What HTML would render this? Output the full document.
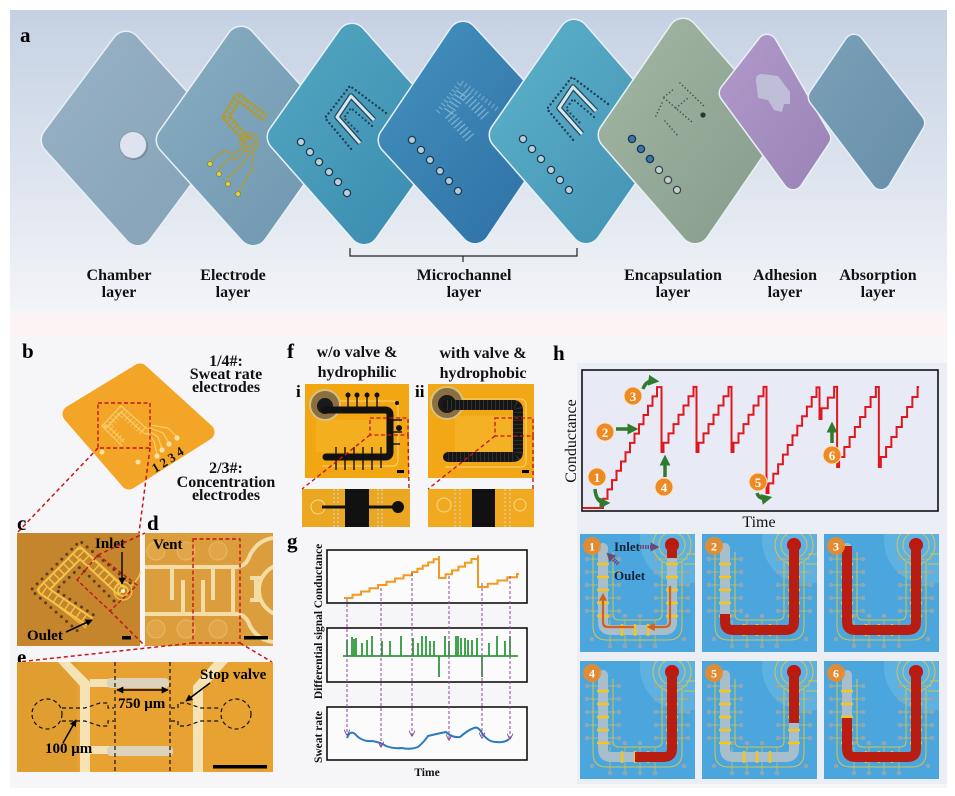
<!DOCTYPE html>
<html><head><meta charset="utf-8">
<style>
html,body{margin:0;padding:0;background:#fff;}
svg{display:block;}
text{font-family:"Liberation Serif","Times New Roman",serif;}
.b{font-weight:bold;}
</style></head><body>
<svg width="955" height="796" viewBox="0 0 955 796" xmlns="http://www.w3.org/2000/svg">
<defs>
<linearGradient id="bgA" x1="0" y1="0" x2="0" y2="1">
 <stop offset="0" stop-color="#c5d1e3"/><stop offset="0.55" stop-color="#dde4ee"/><stop offset="1" stop-color="#f3f4f8"/>
</linearGradient>
<linearGradient id="g1" x1="0" y1="0" x2="1" y2="1"><stop offset="0" stop-color="#97b1c5"/><stop offset="1" stop-color="#85a2b7"/></linearGradient>
<linearGradient id="g2" x1="0" y1="0" x2="1" y2="1"><stop offset="0" stop-color="#86acc1"/><stop offset="1" stop-color="#7197b1"/></linearGradient>
<linearGradient id="g3" x1="0" y1="0" x2="1" y2="1"><stop offset="0" stop-color="#52a6c0"/><stop offset="1" stop-color="#3a8bb0"/></linearGradient>
<linearGradient id="g4" x1="0" y1="0" x2="1" y2="1"><stop offset="0" stop-color="#4290bc"/><stop offset="1" stop-color="#2e70a5"/></linearGradient>
<linearGradient id="g5" x1="0" y1="0" x2="1" y2="1"><stop offset="0" stop-color="#5cb0c8"/><stop offset="1" stop-color="#4292b4"/></linearGradient>
<linearGradient id="g6" x1="0" y1="0" x2="1" y2="1"><stop offset="0" stop-color="#a0b6a2"/><stop offset="1" stop-color="#889c8c"/></linearGradient>
<linearGradient id="g7" x1="0" y1="0" x2="1" y2="1"><stop offset="0" stop-color="#b098c9"/><stop offset="1" stop-color="#9b84b7"/></linearGradient>
<linearGradient id="g8" x1="0" y1="0" x2="1" y2="1"><stop offset="0" stop-color="#7a9fb7"/><stop offset="1" stop-color="#6890aa"/></linearGradient>
<marker id="mk" viewBox="0 0 10 10" refX="9" refY="5" markerWidth="7" markerHeight="7" markerUnits="userSpaceOnUse" orient="auto"><path d="M0,0 L10,5 L0,10 z" fill="#000"/></marker>
<marker id="mk2" viewBox="0 0 10 10" refX="9" refY="5" markerWidth="7" markerHeight="7" markerUnits="userSpaceOnUse" orient="auto-start-reverse"><path d="M0,0 L10,5 L0,10 z" fill="#000"/></marker>
<marker id="gm" viewBox="0 0 10 10" refX="6" refY="5" markerWidth="11" markerHeight="11" markerUnits="userSpaceOnUse" orient="auto"><path d="M0,0 L10,5 L0,10 z" fill="#2f7a2c"/></marker>
<marker id="om" viewBox="0 0 10 10" refX="6" refY="5" markerWidth="8" markerHeight="8" markerUnits="userSpaceOnUse" orient="auto"><path d="M0,0 L10,5 L0,10 z" fill="#d4601a"/></marker>
<marker id="pm" viewBox="0 0 10 10" refX="6" refY="5" markerWidth="9" markerHeight="9" markerUnits="userSpaceOnUse" orient="auto"><path d="M0,0 L10,5 L0,10 z" fill="#6a4a7a"/></marker>
<marker id="vm" viewBox="0 0 10 10" refX="9" refY="5" markerWidth="6" markerHeight="6" markerUnits="userSpaceOnUse" orient="auto"><path d="M0,0 L10,5 L0,10" fill="none" stroke="#8a4a9a" stroke-width="1.6"/></marker>
<clipPath id="tc"><rect x="0" y="0" width="115" height="118"/></clipPath>
<clipPath id="dc"><rect x="145" y="533" width="128" height="113"/></clipPath>
<g id="tb">
 <g clip-path="url(#tc)">
 <rect width="115" height="118" fill="#4aa6dc"/>
 <circle cx="104" cy="6" r="44" fill="#6dbbe8" opacity="0.55"/>
 <circle cx="92" cy="11" r="13" fill="none" stroke="#d4c453" stroke-width="1"/>
 <circle cx="92" cy="11" r="19" fill="none" stroke="#d4c453" stroke-width="1"/>
 <path d="M106,20 H118 M104,30 H118" stroke="#d4c453" stroke-width="1"/>
 <g stroke="#c9bf5a" stroke-width="0.8">
  <path d="M7,25H39M7,38H39M7,51H39M7,64H39M7,77H39M76,25H108M76,38H108M76,51H108M76,64H108M76,77H108M30,86V112M45,86V112M60,86V112M75,86V112"/>
 </g>
 <g fill="#8ea6b6">
  <circle cx="7" cy="25" r="2.3"/><circle cx="7" cy="38" r="2.3"/><circle cx="7" cy="51" r="2.3"/><circle cx="7" cy="64" r="2.3"/><circle cx="7" cy="77" r="2.3"/>
  <circle cx="39" cy="25" r="2.3"/><circle cx="39" cy="38" r="2.3"/><circle cx="39" cy="51" r="2.3"/><circle cx="39" cy="64" r="2.3"/><circle cx="39" cy="77" r="2.3"/>
  <circle cx="76" cy="25" r="2.3"/><circle cx="76" cy="38" r="2.3"/><circle cx="76" cy="51" r="2.3"/><circle cx="76" cy="64" r="2.3"/><circle cx="76" cy="77" r="2.3"/>
  <circle cx="108" cy="38" r="2.3"/><circle cx="108" cy="51" r="2.3"/><circle cx="108" cy="64" r="2.3"/><circle cx="108" cy="77" r="2.3"/>
  <circle cx="30" cy="112" r="2.3"/><circle cx="45" cy="112" r="2.3"/><circle cx="60" cy="112" r="2.3"/><circle cx="75" cy="112" r="2.3"/><circle cx="12" cy="105" r="2.3"/><circle cx="104" cy="105" r="2.3"/>
  <circle cx="30" cy="82" r="2.3"/><circle cx="45" cy="82" r="2.3"/><circle cx="60" cy="82" r="2.3"/>
 </g>
 <path d="M13,14 V92 Q13,106 27,106 H88 Q102,106 102,92 V28" fill="none" stroke="#d4c453" stroke-width="1"/>
 <path d="M33,18 V80 Q33,86 39,86 H76 Q82,86 82,80 V28" fill="none" stroke="#d4c453" stroke-width="1"/>
 <path d="M23,14 V88 Q23,96 31,96 H84 Q92,96 92,88 V11" fill="none" stroke="#a8bfcb" stroke-width="10" stroke-linecap="round"/>
 <g stroke="#f5c518" stroke-width="2.5">
  <path d="M17,30H29M17,43H29M17,56H29M17,69H29M17,82H29M86,30H98M86,43H98M86,56H98M86,69H98M86,82H98M42,90V102M55,90V102M68,90V102"/>
 </g>
 <circle cx="92" cy="11" r="7" fill="#c0160c"/>
 </g>
</g>
</defs>

<rect width="955" height="796" fill="#fff"/>
<rect x="10" y="10" width="937" height="300" fill="url(#bgA)"/>
<rect x="10" y="310" width="937" height="478" fill="#f6f6f8"/>
<rect x="10" y="315" width="937" height="22" fill="#fcf4f4"/>

<text x="20" y="42" font-size="21" class="b">a</text>

<g stroke-linejoin="round">
 <polygon points="56,140 126,46 208,137 138,231" fill="none" stroke="#e9f0f5" stroke-width="31"/>
 <polygon points="56,140 126,46 208,137 138,231" fill="url(#g1)" stroke="url(#g1)" stroke-width="28"/>
 <circle cx="134" cy="146" r="14" fill="#5f7385" opacity="0.6"/>
 <circle cx="133" cy="145" r="13.5" fill="#dfe3ef" stroke="#8a9cab" stroke-width="1"/>

 <polygon points="171,140 241,41 323,132 253,231" fill="none" stroke="#e9f0f5" stroke-width="31"/>
 <polygon points="171,140 241,41 323,132 253,231" fill="url(#g2)" stroke="url(#g2)" stroke-width="28"/>
 <g fill="none">
  <path d="M265,118 L238,97 L226,117 L248,141" stroke="#b89a20" stroke-width="8"/>
  <path d="M265,118 L238,97 L226,117 L248,141" stroke="#7ea4bb" stroke-width="5"/>
  <path d="M265,118 L238,97 L226,117 L248,141" stroke="#b89a20" stroke-width="8" stroke-dasharray="1.2 3.5"/>
  <circle cx="249" cy="142" r="5" stroke="#b89a20" stroke-width="1.5"/>
  <circle cx="249" cy="142" r="9" stroke="#b89a20" stroke-width="1.2"/>
  <path d="M244,146 L232,155 L225,150 L214,158 L210,163 M246,150 L236,160 L230,158 L220,168 L219,174 M250,152 L242,165 L236,170 L228,178 L228,183 M253,150 L252,170 L246,178 L242,186 L238,193" stroke="#b89a20" stroke-width="1.2"/>
 </g>
 <g fill="#e0cc50" stroke="#8a7a10" stroke-width="0.6"><circle cx="210" cy="164" r="2.5"/><circle cx="219" cy="174" r="2.5"/><circle cx="228" cy="184" r="2.5"/><circle cx="238" cy="194" r="2.5"/></g>

 <polygon points="282,137 352,38 434,131 364,230" fill="none" stroke="#e9f0f5" stroke-width="31"/>
 <polygon points="282,137 352,38 434,131 364,230" fill="url(#g3)" stroke="url(#g3)" stroke-width="28"/>
 <g id="mcd">
  <path d="M374,120 L351,96 L337,117 L360,143" fill="none" stroke="#23455a" stroke-width="5.5" stroke-linejoin="round"/>
  <path d="M374,120 L351,96 L337,117 L360,143" fill="none" stroke="#d8e6ee" stroke-width="3" stroke-linejoin="round"/>
  <path d="M386,113 L350,86 L325,118 L352,150" fill="none" stroke="#1d3f55" stroke-width="2.4" stroke-dasharray="0 4.2" stroke-linecap="round"/>
  <path d="M372,126 L351,108 L344,118 L360,134" fill="none" stroke="#1d3f55" stroke-width="2.2" stroke-dasharray="0 4.2" stroke-linecap="round"/>
 </g>
 <g fill="#bdd0dc" stroke="#1c3e54" stroke-width="1.3">
  <circle cx="301" cy="142" r="3.6"/><circle cx="310" cy="152" r="3.6"/><circle cx="319" cy="162" r="3.6"/><circle cx="329" cy="172" r="3.6"/><circle cx="338" cy="182" r="3.6"/><circle cx="347" cy="193" r="3.6"/>
 </g>

 <polygon points="393,140 463,36 545,125 475,229" fill="none" stroke="#e9f0f5" stroke-width="31"/>
 <polygon points="393,140 463,36 545,125 475,229" fill="url(#g4)" stroke="url(#g4)" stroke-width="28"/>
 <g transform="translate(111,-4)" fill="none">
  <path d="M374,120 L351,96 L337,117 L360,143" stroke="#8fbcd8" stroke-width="11" stroke-dasharray="1.3 3" opacity="0.8"/>
  <path d="M386,113 L350,86 L325,118" stroke="#8fbcd8" stroke-width="5" stroke-dasharray="1.3 3" opacity="0.6"/>
 </g>
 <g fill="#b5cadb" stroke="#1c3e54" stroke-width="1.3">
  <circle cx="412" cy="140" r="3.6"/><circle cx="421" cy="150" r="3.6"/><circle cx="430" cy="160" r="3.6"/><circle cx="440" cy="171" r="3.6"/><circle cx="449" cy="181" r="3.6"/><circle cx="458" cy="191" r="3.6"/>
 </g>

 <polygon points="504,135 574,34 656,128 586,229" fill="none" stroke="#e9f0f5" stroke-width="31"/>
 <polygon points="504,135 574,34 656,128 586,229" fill="url(#g5)" stroke="url(#g5)" stroke-width="28"/>
 <use href="#mcd" transform="translate(222,-9)"/>
 <g fill="#bdd0dc" stroke="#1c3e54" stroke-width="1.3">
  <circle cx="523" cy="139" r="3.6"/><circle cx="532" cy="149" r="3.6"/><circle cx="541" cy="159" r="3.6"/><circle cx="551" cy="170" r="3.6"/><circle cx="560" cy="180" r="3.6"/><circle cx="569" cy="190" r="3.6"/>
 </g>

 <polygon points="613,135 683,33 765,127 695,229" fill="none" stroke="#e9f0f5" stroke-width="31"/>
 <polygon points="613,135 683,33 765,127 695,229" fill="url(#g6)" stroke="url(#g6)" stroke-width="28"/>
 <g fill="none" stroke="#3f4a48" stroke-width="1.6" stroke-dasharray="0 3.6" stroke-linecap="round">
  <path d="M680,83 L705,107"/><path d="M664,97 L675,88"/><path d="M664,98 L692,122"/><path d="M676,108 L688,98"/><path d="M665,121 L678,136"/><path d="M662,103 L655,118"/>
 </g>
 <circle cx="703" cy="115" r="2.6" fill="#2c3434"/>
 <g stroke-width="1.3">
  <circle cx="632" cy="139" r="3.6" fill="#3a78a8" stroke="#1c3050"/><circle cx="641" cy="149" r="3.6" fill="#3a78a8" stroke="#1c3050"/><circle cx="650" cy="159" r="3.6" fill="#3a78a8" stroke="#1c3050"/>
  <circle cx="659" cy="170" r="3.6" fill="#c7cfcf" stroke="#3a4a4a"/><circle cx="668" cy="180" r="3.6" fill="#c7cfcf" stroke="#3a4a4a"/><circle cx="677" cy="190" r="3.6" fill="#c7cfcf" stroke="#3a4a4a"/>
 </g>

 <polygon points="729,93 767,44 821,138 793,180" fill="none" stroke="#e9f0f5" stroke-width="21"/>
 <polygon points="729,93 767,44 821,138 793,180" fill="url(#g7)" stroke="url(#g7)" stroke-width="18"/>
 <path d="M756,80 Q756,74 762,74 L778,76 L790,92 L790,104 L784,104 L782,112 L774,110 L768,100 L758,98 Z" fill="#c3c6da" opacity="0.85"/>

 <polygon points="818,97 854,44 915,123 881,180" fill="none" stroke="#e9f0f5" stroke-width="21"/>
 <polygon points="818,97 854,44 915,123 881,180" fill="url(#g8)" stroke="url(#g8)" stroke-width="18"/>
</g>

<path d="M350,248 V256 H577 V248 M463,256 V262" fill="none" stroke="#222" stroke-width="1.2"/>

<g class="b" font-size="16" text-anchor="middle" fill="#111">
 <text x="119" y="280">Chamber</text><text x="119" y="297">layer</text>
 <text x="233" y="280">Electrode</text><text x="233" y="297">layer</text>
 <text x="464" y="280">Microchannel</text><text x="464" y="297">layer</text>
 <text x="673" y="280">Encapsulation</text><text x="673" y="297">layer</text>
 <text x="785" y="280">Adhesion</text><text x="785" y="297">layer</text>
 <text x="878" y="280">Absorption</text><text x="878" y="297">layer</text>
</g>

<!-- panel b -->
<text x="22" y="358" font-size="21" class="b">b</text>
<polygon points="71,414 140,372 206,432 129,481" fill="#f2a526" stroke="#f2a526" stroke-width="17" stroke-linejoin="round"/>
<g fill="none" stroke="#f8d070" stroke-width="1.2">
 <path d="M142,432 L121,412 L108,426 L124,442"/>
 <path d="M146,428 L121,406 L102,426 L122,446"/>
 <path d="M142,432 L121,412 L108,426 L124,442" stroke-width="7" stroke-dasharray="1 3" opacity="0.8"/>
 <path d="M147,433 L154,441 L157,455 M149,431 L158,437 L162,449 M150,428 L163,433 L169,443 M150,425 L168,428 L177,437"/>
</g>
<circle cx="146" cy="431" r="3" fill="none" stroke="#f8d070" stroke-width="1"/>
<g fill="#fae2a4"><circle cx="157" cy="456" r="2.6"/><circle cx="162" cy="450" r="2.6"/><circle cx="169" cy="444" r="2.6"/><circle cx="177" cy="438" r="2.6"/><circle cx="102" cy="452" r="2.5"/><circle cx="138" cy="462" r="2.5"/></g>
<rect x="98" y="403" width="52" height="45" fill="none" stroke="#c8141a" stroke-width="1.4" stroke-dasharray="4 2.5"/>
<g class="b" font-size="13" fill="#111">
 <text x="155" y="473" transform="rotate(-30 155 473)">1</text>
 <text x="163" y="468" transform="rotate(-30 163 468)">2</text>
 <text x="171" y="463" transform="rotate(-30 171 463)">3</text>
 <text x="179" y="457" transform="rotate(-30 179 457)">4</text>
</g>
<g class="b" font-size="16" text-anchor="middle" fill="#111">
 <text x="226" y="366">1/4#:</text><text x="226" y="379">Sweat rate</text><text x="226" y="392">electrodes</text>
 <text x="226" y="473">2/3#:</text><text x="226" y="487">Concentration</text><text x="226" y="500">electrodes</text>
</g>
<g stroke="#c8141a" stroke-width="1.5" stroke-dasharray="4 3" fill="none">
 <path d="M98,448 L17,533"/><path d="M150,448 L139,533"/>
</g>

<!-- panel c -->
<text x="17" y="530" font-size="21" class="b">c</text>
<rect x="17" y="533" width="123" height="113" fill="#c4852c"/>
<g fill="none" stroke-linejoin="round">
 <path d="M130,583 L80,541 L31,590 L81,634" stroke="#4a2a10" stroke-width="3" stroke-dasharray="0 7" stroke-linecap="round" opacity="0.8"/>
 <path d="M114,601 L80,567 L56,590 L95,616" stroke="#4a2a10" stroke-width="3" stroke-dasharray="0 7" stroke-linecap="round" opacity="0.8"/>
 <path d="M125,587 L80,546 L37,590 L86,628" stroke="#f0c040" stroke-width="1.2"/>
 <path d="M122,592 L80,553 L43,590 L90,622" stroke="#f3c44a" stroke-width="11"/>
 <path d="M122,592 L80,553 L43,590 L90,622" stroke="#c4852c" stroke-width="7"/>
 <path d="M122,592 L80,553 L43,590 L90,622" stroke="#f3c44a" stroke-width="11" stroke-dasharray="1.4 5.5"/>
 <circle cx="123" cy="591" r="5" stroke="#f3c44a" stroke-width="1.5"/>
 <circle cx="123" cy="591" r="9" stroke="#f3c44a" stroke-width="1.2"/>
 <path d="M131,586 Q140,578 140,572" stroke="#f3c44a" stroke-width="1.5"/>
</g>
<circle cx="123" cy="591" r="2" fill="#fff6d0"/>
<polygon points="77,580 98,555 137,585 110,611" fill="none" stroke="#c8141a" stroke-width="1.4" stroke-dasharray="4 2.5"/>
<text x="95" y="548" font-size="15" class="b">Inlet</text>
<path d="M122,552 V584" stroke="#000" stroke-width="1.4" marker-end="url(#mk)"/>
<text x="27" y="640" font-size="15" class="b">Oulet</text>
<path d="M66,632 L92,620" stroke="#000" stroke-width="1.6" marker-end="url(#mk)"/>
<rect x="122" y="636" width="9" height="3.5" fill="#000"/>

<!-- panel d -->
<text x="147" y="530" font-size="21" class="b">d</text>
<g clip-path="url(#dc)">
<rect x="145" y="533" width="128" height="113" fill="#dc9e3c"/>
<g fill="#e1a648" stroke="#eab868" stroke-width="1">
 <circle cx="156" cy="551" r="9"/><circle cx="186" cy="551" r="9"/><circle cx="218" cy="551" r="9"/>
 <circle cx="156" cy="629" r="9"/><circle cx="186" cy="629" r="9"/><circle cx="218" cy="629" r="9"/>
</g>
<g fill="none" stroke="#f4dca6" stroke-width="4">
 <path d="M145,567 H236 Q246,567 250,555 Q258,540 273,538"/>
 <path d="M145,614 H236 Q246,614 250,626 Q258,640 273,642"/>
 <path d="M172,567 V600 M183,580 V614 M203,580 V614 M213,567 V600 M233,567 V614"/>
 <circle cx="285" cy="590" r="26"/>
 <path d="M250,578 H262 M250,600 H262 M256,578 V600"/>
</g>
</g>
<text x="153" y="549" font-size="15" class="b">Vent</text>
<rect x="193" y="539" width="47" height="104" fill="none" stroke="#c8141a" stroke-width="1.4" stroke-dasharray="4 2.5"/>
<rect x="244" y="636" width="24" height="3.5" fill="#000"/>
<g stroke="#c8141a" stroke-width="1.5" stroke-dasharray="4 3" fill="none">
 <path d="M98,555 L145,533"/><path d="M110,611 L145,646"/>
 <path d="M193,643 L18,662"/><path d="M240,643 L272,662"/>
</g>

<!-- panel e -->
<text x="17" y="664" font-size="21" class="b">e</text>
<rect x="17" y="662" width="256" height="110" fill="#e7a232"/>
<rect x="17" y="662" width="60" height="110" fill="#dc9a2e" opacity="0.6"/>
<g fill="#f5e2b5">
 <polygon points="58,662 70,662 90,682 90,772 80,772 80,686"/>
 <polygon points="214,662 228,662 203,690 203,772 193,772 193,686"/>
 <rect x="90" y="679" width="20" height="8"/>
 <rect x="90" y="746" width="20" height="8"/>
</g>
<g fill="#ddd2bc">
 <rect x="107" y="678" width="62" height="10" rx="4"/>
 <rect x="107" y="746" width="66" height="10" rx="4"/>
</g>
<g fill="none" stroke="#111" stroke-width="1.2" stroke-dasharray="4 3">
 <path d="M115,662 V772"/><path d="M170,662 V772"/>
 <circle cx="47" cy="714" r="15"/><circle cx="236" cy="714" r="15"/>
 <path d="M62,708 H85 L100,703 H108 V708 H114"/>
 <path d="M62,721 H85 L100,726 H108 V721 H114"/>
 <path d="M171,708 H178 V703 H186 L201,708 H221"/>
 <path d="M171,721 H178 V726 H186 L201,721 H221"/>
</g>
<path d="M117,690 H168" stroke="#000" stroke-width="1.5" marker-end="url(#mk2)" marker-start="url(#mk2)"/>
<text x="118" y="708" font-size="15" class="b">750 μm</text>
<text x="200" y="679" font-size="15" class="b">Stop valve</text>
<path d="M210,683 L186,701" stroke="#000" stroke-width="1.5" marker-end="url(#mk)"/>
<text x="45" y="753" font-size="15" class="b">100 μm</text>
<path d="M63,743 L76,720" stroke="#000" stroke-width="1.5" marker-end="url(#mk)"/>
<rect x="213" y="765" width="54" height="3.5" fill="#000"/>

<!-- panel f -->
<text x="287" y="358" font-size="21" class="b">f</text>
<g class="b" font-size="16" text-anchor="middle" fill="#111">
 <text x="357" y="357">w/o valve &amp;</text><text x="357" y="377">hydrophilic</text>
 <text x="483" y="358">with valve &amp;</text><text x="483" y="378">hydrophobic</text>
</g>
<text x="296" y="397" font-size="17" class="b">i</text>
<text x="415" y="397" font-size="17" class="b">ii</text>
<rect x="305" y="384" width="104" height="94" fill="#f1a612"/>
<rect x="316" y="420" width="70" height="32" fill="#f5b52a" opacity="0.6"/>
<path d="M318,401 H392 Q398,401 398,407 V460 Q398,466 392,466 H322" fill="none" stroke="#f8d67a" stroke-width="1"/>
<circle cx="325" cy="405" r="15" fill="#8a7040" stroke="#d8c080" stroke-width="2"/>
<circle cx="325" cy="406" r="8" fill="#1a1a1a"/>
<path d="M325,410 H385 Q390,410 390,415 V452 Q390,457 385,457 H326" fill="none" stroke="#111" stroke-width="7" stroke-linecap="round"/>
<g stroke="#111" stroke-width="1.4">
 <path d="M348,410V395M357,410V395M367,410V395M377,410V395M390,420H402M390,432H402M390,444H400"/>
 <path d="M336,447V470M345,447V470M354,447V470M363,447V470M372,447V470M381,447V468"/>
</g>
<g fill="#111"><circle cx="348" cy="395" r="2.5"/><circle cx="357" cy="395" r="2.5"/><circle cx="367" cy="395" r="2.5"/><circle cx="377" cy="395" r="2.5"/><circle cx="399" cy="428" r="3"/><circle cx="397" cy="403" r="2"/></g>
<rect x="370" y="418" width="38" height="17" fill="none" stroke="#c8141a" stroke-width="1.3" stroke-dasharray="4 2.5"/>
<rect x="397" y="470" width="7" height="3" fill="#000"/>
<rect x="302" y="489" width="108" height="38" fill="#eba622"/>
<path d="M334,489V527M338,489V527M378,489V527M382,489V527" stroke="#d8cfb8" stroke-width="1.2" stroke-dasharray="2 2"/>
<circle cx="318" cy="507" r="7" fill="none" stroke="#f6d98c" stroke-width="1"/>
<rect x="345" y="489" width="24" height="38" fill="#111"/>
<path d="M322,507 H395" stroke="#111" stroke-width="3"/>
<circle cx="398" cy="507" r="6" fill="#111"/>
<rect x="428" y="384" width="106" height="94" fill="#f2a816"/>
<rect x="455" y="416" width="56" height="36" fill="#f6b832" opacity="0.6"/>
<path d="M440,399 H520 Q526,399 526,405 V462 Q526,467 520,467 H445" fill="none" stroke="#f8d67a" stroke-width="1"/>
<circle cx="447" cy="403" r="16" fill="#8a7040" stroke="#d8c080" stroke-width="2"/>
<circle cx="447" cy="404" r="9" fill="#1a1a1a"/>
<path d="M447,405 H513 Q518,405 518,410 V452 Q518,457 513,457 H448" fill="none" stroke="#151515" stroke-width="10" stroke-linecap="round"/>
<path d="M447,405 H513 Q518,405 518,410 V452 Q518,457 513,457 H448" fill="none" stroke="#444" stroke-width="10" stroke-dasharray="1 3" opacity="0.6"/>
<rect x="495" y="418" width="38" height="18" fill="none" stroke="#c8141a" stroke-width="1.3" stroke-dasharray="4 2.5"/>
<rect x="522" y="470" width="7" height="3" fill="#000"/>
<rect x="428" y="489" width="106" height="38" fill="#f1a920"/>
<path d="M455,489V527M460,489V527M505,489V527M510,489V527" stroke="#d8cfb8" stroke-width="1.2" stroke-dasharray="2 2"/>
<circle cx="444" cy="505" r="7" fill="none" stroke="#f6d98c" stroke-width="1"/>
<circle cx="520" cy="505" r="6" fill="none" stroke="#f6d98c" stroke-width="1"/>
<rect x="472" y="489" width="23" height="38" fill="#111"/>
<g stroke="#c8141a" stroke-width="1.4" stroke-dasharray="4 3" fill="none">
 <path d="M370,435 L302,489"/><path d="M408,435 L409,489"/>
 <path d="M495,436 L428,489"/><path d="M533,436 L533,489"/>
</g>

<!-- panel g -->
<text x="287" y="548" font-size="21" class="b">g</text>
<g fill="#fbfbfc" stroke="#111" stroke-width="1.6">
 <rect x="327" y="550" width="200" height="53"/>
 <rect x="327" y="628" width="200" height="54"/>
 <rect x="327" y="707" width="200" height="53"/>
</g>
<path d="M344,598 h8.5v-3.25h8.5v-3.25h8.5v-3.25h8.5v-3.25h8.5v-3.25h8.5v-3.25h8.5v-3.25h8.5v-3.25 h5.4v-3.2h5.4v-3.2h5.4v-3.2h5.4v-3.2h5.4v-3.2 V578 h6.5v-3.8h6.5v-3.8h6.5v-3.8h6.5v-3.8h6.5v-3.8h6.5v-3.8 V587 h9.75v-3.25h9.75v-3.25h9.75v-3.25h9.75v-3.25 h2" fill="none" stroke="#f39a1e" stroke-width="2"/>
<g stroke="#2f9a3c" stroke-width="1.8" fill="none">
 <path d="M343,656 H518"/>
 <path d="M347,656V640M352,656V637M354,656V639M356,656V638M362,656V643M367,656V640M372,656V636M382,656V641M390,656V641M401,656V636M413,656V638M418,656V643M422,656V636M426,656V636M430,656V641M434,656V641M445,656V636M449,656V641M456,656V636M458,656V636M461,656V638M465,656V638M468,656V640M472,656V640M477,656V638M489,656V643M497,656V636M505,656V641M510,656V636"/>
 <path d="M439,656V677M482,656V677"/>
</g>
<path d="M347,738 Q350,730 355,734 Q362,742 372,741 Q380,742 386,746 Q394,749 402,748 Q410,750 418,747 Q424,742 428,736 Q436,734 446,732 Q452,738 460,737 Q468,730 474,728 Q478,726 482,733 Q488,742 496,742 Q505,743 509,739" fill="none" stroke="#2a7ac0" stroke-width="2"/>
<g stroke="#8a4a9a" stroke-width="1" stroke-dasharray="3 2" fill="none">
 <path d="M347,599 V735" marker-end="url(#vm)"/>
 <path d="M381,588 V747" marker-end="url(#vm)"/>
 <path d="M412,573 V736" marker-end="url(#vm)"/>
 <path d="M449,576 V740" marker-end="url(#vm)"/>
 <path d="M482,583 V738" marker-end="url(#vm)"/>
 <path d="M510,576 V739" marker-end="url(#vm)"/>
</g>
<g class="b" font-size="11.5" text-anchor="middle" fill="#111">
 <text x="427" y="776">Time</text>
 <text transform="translate(322,576) rotate(-90)">Conductance</text>
 <text transform="translate(322,655) rotate(-90)">Differential signal</text>
 <text transform="translate(322,737) rotate(-90)">Sweat rate</text>
</g>

<!-- panel h -->
<rect x="577" y="363" width="370" height="421" fill="#eceef6"/>
<text x="553" y="360" font-size="21" class="b">h</text>
<rect x="582" y="370" width="356" height="141" fill="#e8eaf6" stroke="#111" stroke-width="1.6"/>
<path d="M583,508 H603 v-9.3h4.5v-9.3h4.5v-9.3h4.5v-9.3h4.5v-9.3h4.5v-9.3h4.5v-9.3h4.5v-9.3h4.5v-9.3h4.5v-9.3h4.5v-9.3h4.5v-9.3h4.5v-9.3h4.5 V452 h2 v-9.3h5v-9.3h5v-9.3h5v-9.3h5v-9.3h5v-9.3h5v-9.3h3 V452 h2 v-9.3h5v-9.3h5v-9.3h5v-9.3h5v-9.3h5v-9.3h5v-9.3h3 V452 h2 v-9.3h5v-9.3h5v-9.3h5v-9.3h5v-9.3h5v-9.3h5v-9.3h3 V493 h2 v-9.6h4.8v-9.6h4.8v-9.6h4.8v-9.6h4.8v-9.6h4.8v-9.6h4.8v-9.6h4.8v-9.6h4.8v-9.6h4.8v-9.6h4.8v-9.6h3 V419 h2 v-10.7h6.3v-10.7h6.3v-10.7h3 V467 h2 v-10h5.25v-10h5.25v-10h5.25v-10h5.25v-10h5.25v-10h5.25v-10h5.25v-10h3 V467 h2 v-10h5.25v-10h5.25v-10h5.25v-10h5.25v-10h5.25v-10h5.25v-10h5.25v-10h1.5" fill="none" stroke="#e0181e" stroke-width="2"/>
<g fill="none" stroke="#2f7a2c" stroke-width="3.5">
 <path d="M595,489 Q596,503 606,503" marker-end="url(#gm)"/>
 <path d="M616,429 H634" marker-end="url(#gm)"/>
 <path d="M643,389 Q646,380 655,381" marker-end="url(#gm)"/>
 <path d="M665,477 V459" marker-end="url(#gm)"/>
 <path d="M757,493 Q759,500 768,498" marker-end="url(#gm)"/>
 <path d="M832,443 V426" marker-end="url(#gm)"/>
</g>
<g fill="#ee8a22" stroke="#fbe3c8" stroke-width="1">
 <circle cx="597" cy="477" r="9"/><circle cx="605" cy="432" r="9"/><circle cx="633" cy="396" r="9"/>
 <circle cx="664" cy="487" r="9"/><circle cx="758" cy="482" r="9"/><circle cx="832" cy="455" r="9"/>
</g>
<g class="b" font-size="13" fill="#fff" text-anchor="middle">
 <text x="597" y="482">1</text><text x="605" y="437">2</text><text x="633" y="401">3</text>
 <text x="664" y="492">4</text><text x="758" y="487">5</text><text x="832" y="460">6</text>
</g>
<text x="759" y="527" font-size="16" text-anchor="middle" fill="#111">Time</text>
<text transform="translate(576,441) rotate(-90)" font-size="16" text-anchor="middle" fill="#111">Conductance</text>

<g transform="translate(580,534)">
 <use href="#tb"/>
 <path d="M92,11 V24" stroke="#b91d12" stroke-width="10"/>
 <path d="M90,52 V88 Q90,93 84,93 H70" fill="none" stroke="#d4601a" stroke-width="2.2" marker-end="url(#om)"/>
 <path d="M54,93 H28 Q23,93 23,88 V62" fill="none" stroke="#d4601a" stroke-width="2.2" marker-end="url(#om)"/>
 <path d="M60,13 H76" stroke="#6a4a7a" stroke-width="4" stroke-dasharray="1.5 1" marker-end="url(#pm)"/>
 <path d="M38,30 L29,21" stroke="#6a4a7a" stroke-width="4" stroke-dasharray="1.5 1" marker-end="url(#pm)"/>
 <text x="34" y="17" font-size="13" class="b" fill="#14243e">Inlet</text>
 <text x="34" y="46" font-size="13" class="b" fill="#14243e">Oulet</text>
 <circle cx="12" cy="12" r="9" fill="#f08a24" opacity="0.9"/><text x="12" y="16.5" font-size="12" class="b" fill="#fff" text-anchor="middle">1</text>
</g>
<g transform="translate(702,534)">
 <use href="#tb"/>
 <path d="M92,11 V88 Q92,96 84,96 H31 Q23,96 23,88 V80" fill="none" stroke="#b91d12" stroke-width="10"/>
 <circle cx="12" cy="12" r="9" fill="#f08a24" opacity="0.9"/><text x="12" y="16.5" font-size="12" class="b" fill="#fff" text-anchor="middle">2</text>
</g>
<g transform="translate(824,534)">
 <use href="#tb"/>
 <path d="M92,11 V88 Q92,96 84,96 H31 Q23,96 23,88 V12" fill="none" stroke="#b91d12" stroke-width="10"/>
 <circle cx="12" cy="12" r="9" fill="#f08a24" opacity="0.9"/><text x="12" y="16.5" font-size="12" class="b" fill="#fff" text-anchor="middle">3</text>
</g>
<g transform="translate(580,661)">
 <use href="#tb"/>
 <path d="M92,11 V88 Q92,96 84,96 H55" fill="none" stroke="#b91d12" stroke-width="10"/>
 <circle cx="12" cy="12" r="9" fill="#f08a24" opacity="0.9"/><text x="12" y="16.5" font-size="12" class="b" fill="#fff" text-anchor="middle">4</text>
</g>
<g transform="translate(702,661)">
 <use href="#tb"/>
 <path d="M92,11 V62" fill="none" stroke="#b91d12" stroke-width="10"/>
 <circle cx="12" cy="12" r="9" fill="#f08a24" opacity="0.9"/><text x="12" y="16.5" font-size="12" class="b" fill="#fff" text-anchor="middle">5</text>
</g>
<g transform="translate(824,661)">
 <use href="#tb"/>
 <path d="M92,11 V88 Q92,96 84,96 H31 Q23,96 23,88 V57" fill="none" stroke="#b91d12" stroke-width="10"/>
 <circle cx="12" cy="12" r="9" fill="#f08a24" opacity="0.9"/><text x="12" y="16.5" font-size="12" class="b" fill="#fff" text-anchor="middle">6</text>
</g>
</svg>
</body></html>
